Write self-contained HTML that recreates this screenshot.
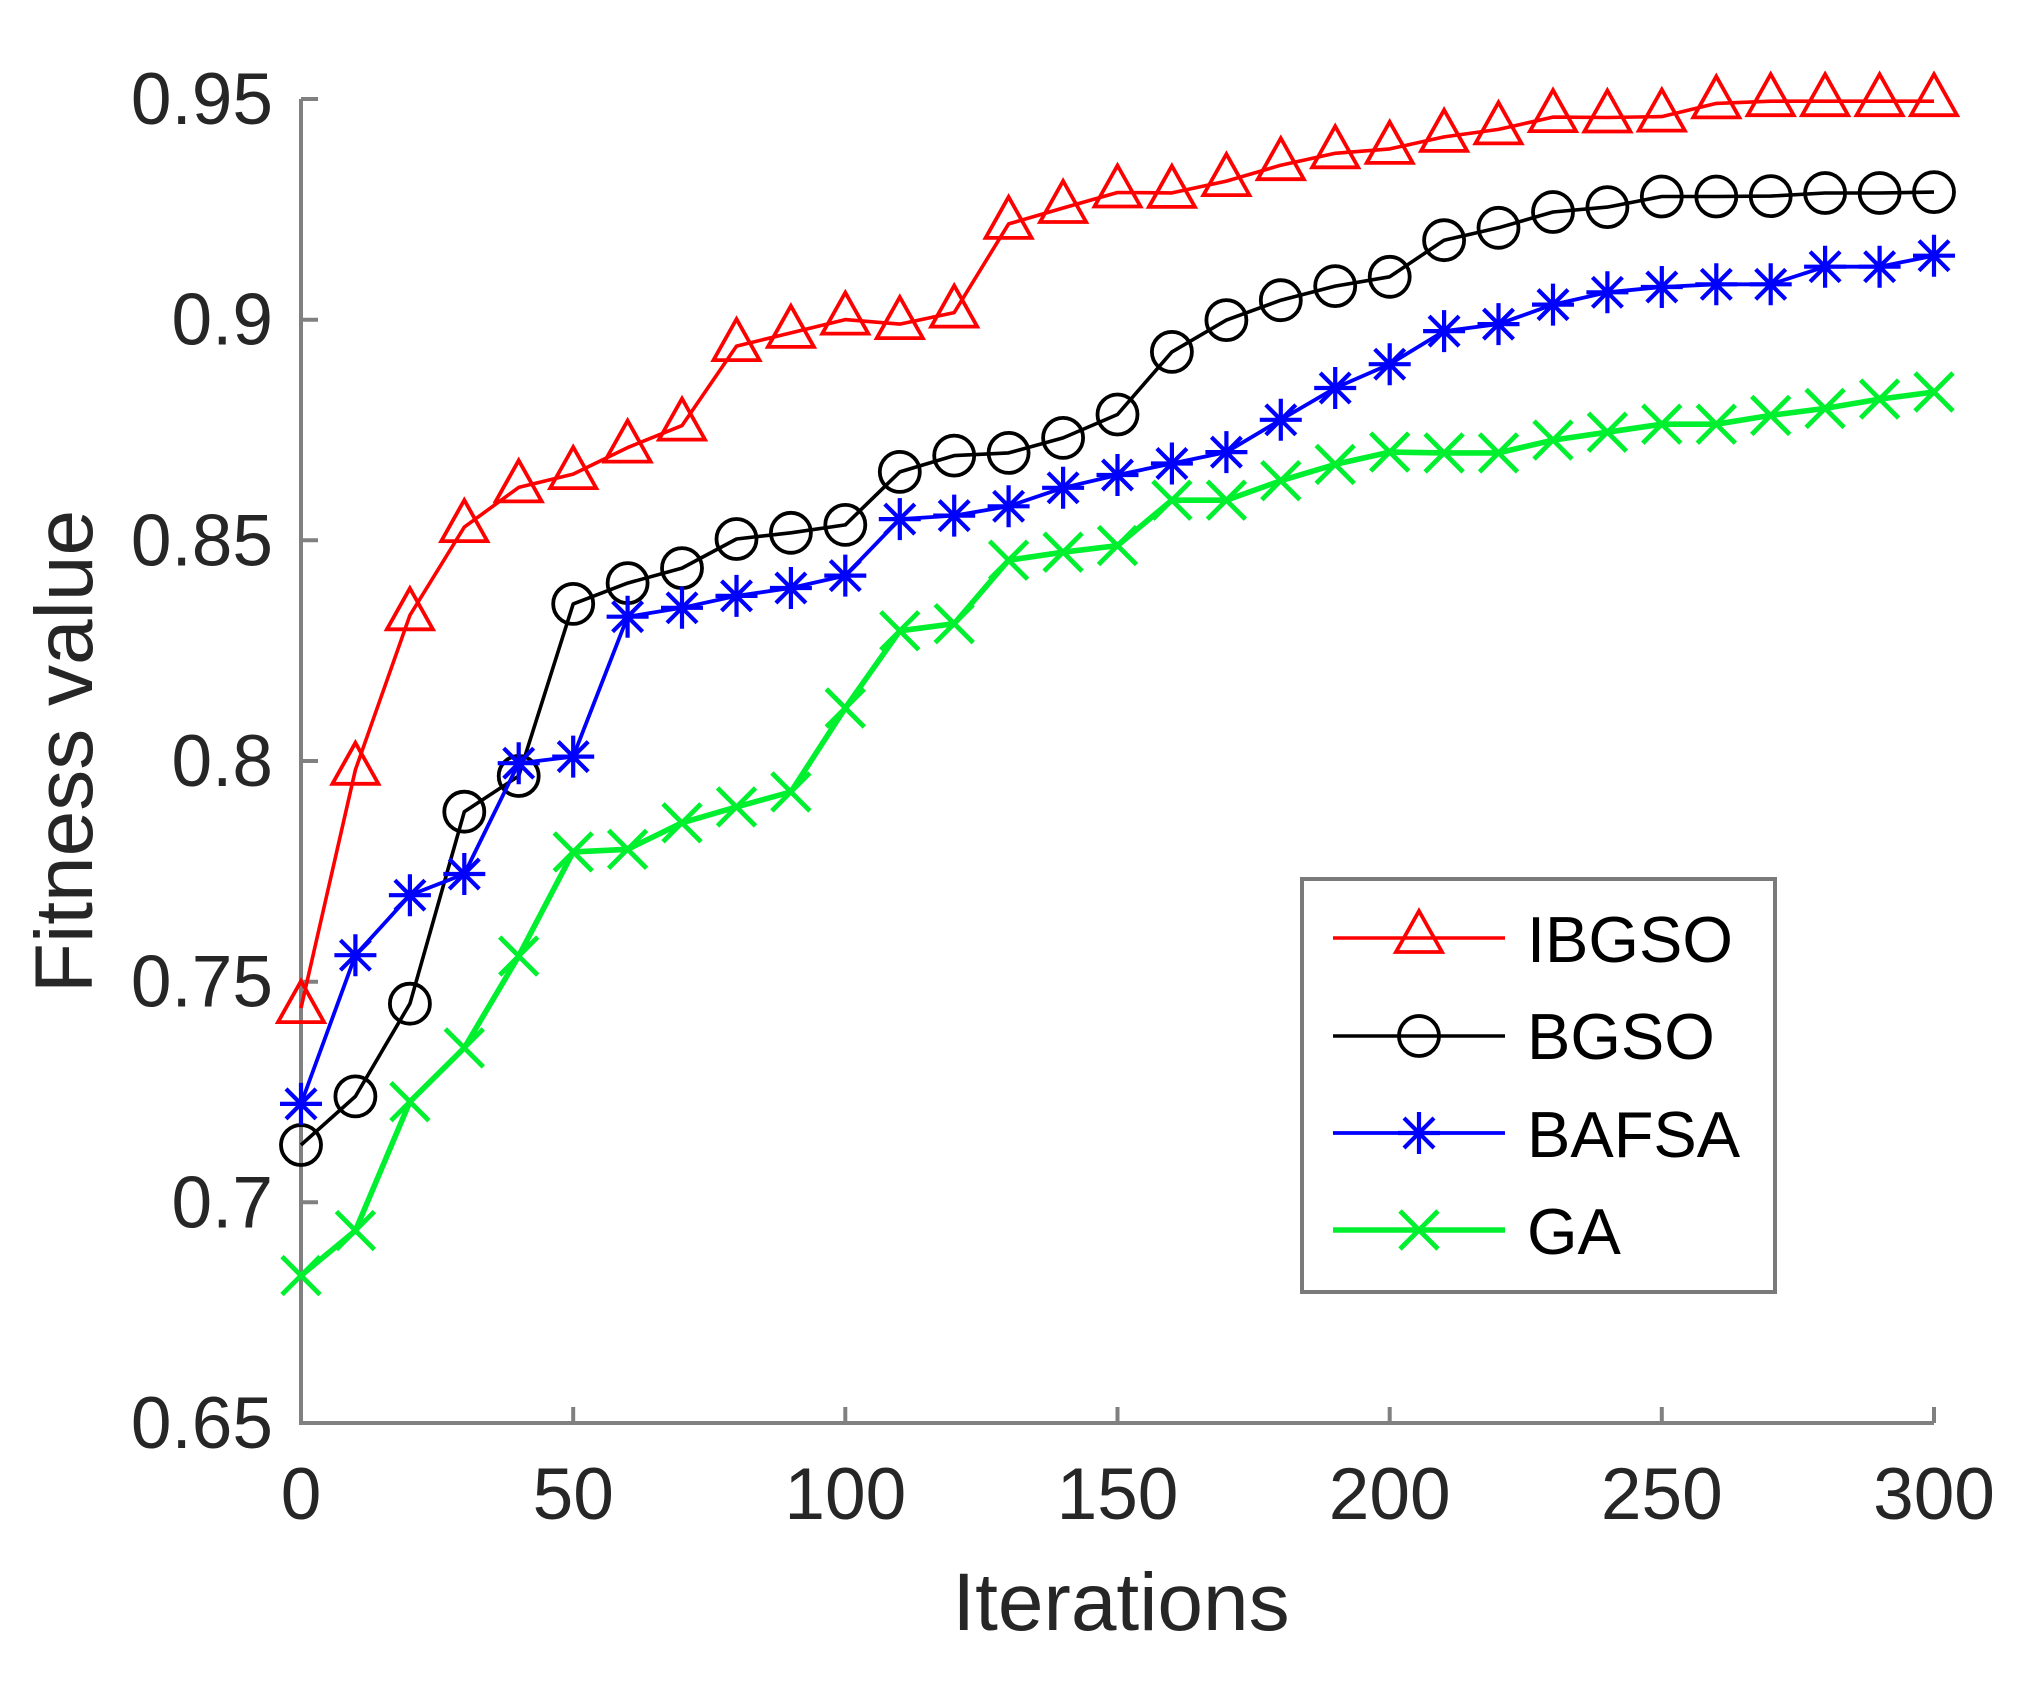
<!DOCTYPE html>
<html>
<head>
<meta charset="utf-8">
<style>
  html, body { margin: 0; padding: 0; background: #ffffff; }
  svg { display: block; }
  text { font-family: "Liberation Sans", Arial, Helvetica, sans-serif; }
</style>
</head>
<body>
<svg width="2041" height="1697" viewBox="0 0 2041 1697" xmlns="http://www.w3.org/2000/svg">
  <defs>
    <path id="tri" d="M0,-27 L23,14 L-23,14 Z" fill="none" stroke="#ff0000" stroke-width="3.8" stroke-linejoin="miter"/>
    <circle id="circ" cx="0" cy="0" r="20" fill="none" stroke="#000000" stroke-width="3.8"/>
    <path id="ast" d="M0,-21 V21 M-21,0 H21 M-15,-15 L15,15 M-15,15 L15,-15" fill="none" stroke="#0000ff" stroke-width="4.2"/>
    <path id="xm" d="M-19,-19 L19,19 M-19,19 L19,-19" fill="none" stroke="#00f030" stroke-width="4.8"/>
  </defs>

  <rect x="0" y="0" width="2041" height="1697" fill="#ffffff"/>

  <!-- Axes -->
  <g stroke="#808080" stroke-width="4" fill="none">
    <path d="M301,99 L301,1423 L1934,1423"/>
    <path d="M301,99 H318 M301,319.7 H318 M301,540.3 H318 M301,761 H318 M301,981.7 H318 M301,1202.3 H318"/>
    <path d="M573.2,1423 V1407 M845.3,1423 V1407 M1117.5,1423 V1407 M1389.7,1423 V1407 M1661.8,1423 V1407 M1934,1423 V1407"/>
  </g>

  <!-- Y tick labels -->
  <g font-size="73" fill="#262626" text-anchor="end">
    <text x="273" y="124">0.95</text>
    <text x="273" y="344.7">0.9</text>
    <text x="273" y="565.3">0.85</text>
    <text x="273" y="786">0.8</text>
    <text x="273" y="1006.7">0.75</text>
    <text x="273" y="1227.3">0.7</text>
    <text x="273" y="1448">0.65</text>
  </g>

  <!-- X tick labels -->
  <g font-size="73" fill="#262626" text-anchor="middle">
    <text x="301" y="1519">0</text>
    <text x="573.2" y="1519">50</text>
    <text x="845.3" y="1519">100</text>
    <text x="1117.5" y="1519">150</text>
    <text x="1389.7" y="1519">200</text>
    <text x="1661.8" y="1519">250</text>
    <text x="1934" y="1519">300</text>
  </g>

  <!-- Axis labels -->
  <text x="1121" y="1630" font-size="82" fill="#262626" text-anchor="middle">Iterations</text>
  <text transform="translate(92,751.5) rotate(-90)" x="0" y="0" font-size="82" fill="#262626" text-anchor="middle">Fitness value</text>

  <!-- IBGSO (red) -->
  <polyline fill="none" stroke="#ff0000" stroke-width="3.6" stroke-linejoin="round"
    points="301,1008.1 355.4,769.8 409.9,615.3 464.3,527.1 518.7,487.4 573.2,474.1 627.6,447.6 682,425.6 736.5,346.1 790.9,332.9 845.3,319.6 899.8,324.1 954.2,312.6 1008.6,223.9 1063.1,208 1117.5,192.5 1171.9,192.9 1226.4,181.1 1280.8,165.2 1335.2,153.3 1389.7,148.9 1444.1,136.9 1498.5,129.4 1553,117.1 1607.4,117.5 1661.8,116.6 1716.3,103.4 1770.7,101.2 1825.1,101.2 1879.6,101.2 1934,101.2"/>
  <g>
    <use href="#tri" x="301" y="1008.1"/><use href="#tri" x="355.4" y="769.8"/><use href="#tri" x="409.9" y="615.3"/>
    <use href="#tri" x="464.3" y="527.1"/><use href="#tri" x="518.7" y="487.4"/><use href="#tri" x="573.2" y="474.1"/>
    <use href="#tri" x="627.6" y="447.6"/><use href="#tri" x="682" y="425.6"/><use href="#tri" x="736.5" y="346.1"/>
    <use href="#tri" x="790.9" y="332.9"/><use href="#tri" x="845.3" y="319.6"/><use href="#tri" x="899.8" y="324.1"/>
    <use href="#tri" x="954.2" y="312.6"/><use href="#tri" x="1008.6" y="223.9"/><use href="#tri" x="1063.1" y="208"/>
    <use href="#tri" x="1117.5" y="192.5"/><use href="#tri" x="1171.9" y="192.9"/><use href="#tri" x="1226.4" y="181.1"/>
    <use href="#tri" x="1280.8" y="165.2"/><use href="#tri" x="1335.2" y="153.3"/><use href="#tri" x="1389.7" y="148.9"/>
    <use href="#tri" x="1444.1" y="136.9"/><use href="#tri" x="1498.5" y="129.4"/><use href="#tri" x="1553" y="117.1"/>
    <use href="#tri" x="1607.4" y="117.5"/><use href="#tri" x="1661.8" y="116.6"/><use href="#tri" x="1716.3" y="103.4"/>
    <use href="#tri" x="1770.7" y="101.2"/><use href="#tri" x="1825.1" y="101.2"/><use href="#tri" x="1879.6" y="101.2"/>
    <use href="#tri" x="1934" y="101.2"/>
  </g>

  <!-- BGSO (black) -->
  <polyline fill="none" stroke="#000000" stroke-width="3.6" stroke-linejoin="round"
    points="301,1145 355.4,1096.4 409.9,1003.7 464.3,811.7 518.7,776 573.2,603.9 627.6,583.1 682,568.1 736.5,539 790.9,532.8 845.3,524.9 899.8,471.9 954.2,455.6 1008.6,452.9 1063.1,437.9 1117.5,414.5 1171.9,351.9 1226.4,320.1 1280.8,300.2 1335.2,286.1 1389.7,276.8 1444.1,240.2 1498.5,227.8 1553,212 1607.4,207.1 1661.8,196.5 1716.3,196.5 1770.7,196.1 1825.1,193 1879.6,193 1934,192.1"/>
  <g>
    <use href="#circ" x="301" y="1145"/><use href="#circ" x="355.4" y="1096.4"/><use href="#circ" x="409.9" y="1003.7"/>
    <use href="#circ" x="464.3" y="811.7"/><use href="#circ" x="518.7" y="776"/><use href="#circ" x="573.2" y="603.9"/>
    <use href="#circ" x="627.6" y="583.1"/><use href="#circ" x="682" y="568.1"/><use href="#circ" x="736.5" y="539"/>
    <use href="#circ" x="790.9" y="532.8"/><use href="#circ" x="845.3" y="524.9"/><use href="#circ" x="899.8" y="471.9"/>
    <use href="#circ" x="954.2" y="455.6"/><use href="#circ" x="1008.6" y="452.9"/><use href="#circ" x="1063.1" y="437.9"/>
    <use href="#circ" x="1117.5" y="414.5"/><use href="#circ" x="1171.9" y="351.9"/><use href="#circ" x="1226.4" y="320.1"/>
    <use href="#circ" x="1280.8" y="300.2"/><use href="#circ" x="1335.2" y="286.1"/><use href="#circ" x="1389.7" y="276.8"/>
    <use href="#circ" x="1444.1" y="240.2"/><use href="#circ" x="1498.5" y="227.8"/><use href="#circ" x="1553" y="212"/>
    <use href="#circ" x="1607.4" y="207.1"/><use href="#circ" x="1661.8" y="196.5"/><use href="#circ" x="1716.3" y="196.5"/>
    <use href="#circ" x="1770.7" y="196.1"/><use href="#circ" x="1825.1" y="193"/><use href="#circ" x="1879.6" y="193"/>
    <use href="#circ" x="1934" y="192.1"/>
  </g>

  <!-- BAFSA (blue) -->
  <polyline fill="none" stroke="#0000ff" stroke-width="3.8" stroke-linejoin="round"
    points="301,1103.9 355.4,955.2 409.9,895.2 464.3,874 518.7,763.2 573.2,756.6 627.6,616.7 682,607.8 736.5,595.9 790.9,588 845.3,575.6 899.8,519.1 954.2,515.6 1008.6,506.3 1063.1,487.8 1117.5,475 1171.9,463.5 1226.4,452.1 1280.8,419.8 1335.2,388 1389.7,364.2 1444.1,331.1 1498.5,324.1 1553,304.6 1607.4,292.3 1661.8,287 1716.3,284.3 1770.7,284.3 1825.1,266.7 1879.6,266.7 1934,255.7"/>
  <g>
    <use href="#ast" x="301" y="1103.9"/><use href="#ast" x="355.4" y="955.2"/><use href="#ast" x="409.9" y="895.2"/>
    <use href="#ast" x="464.3" y="874"/><use href="#ast" x="518.7" y="763.2"/><use href="#ast" x="573.2" y="756.6"/>
    <use href="#ast" x="627.6" y="616.7"/><use href="#ast" x="682" y="607.8"/><use href="#ast" x="736.5" y="595.9"/>
    <use href="#ast" x="790.9" y="588"/><use href="#ast" x="845.3" y="575.6"/><use href="#ast" x="899.8" y="519.1"/>
    <use href="#ast" x="954.2" y="515.6"/><use href="#ast" x="1008.6" y="506.3"/><use href="#ast" x="1063.1" y="487.8"/>
    <use href="#ast" x="1117.5" y="475"/><use href="#ast" x="1171.9" y="463.5"/><use href="#ast" x="1226.4" y="452.1"/>
    <use href="#ast" x="1280.8" y="419.8"/><use href="#ast" x="1335.2" y="388"/><use href="#ast" x="1389.7" y="364.2"/>
    <use href="#ast" x="1444.1" y="331.1"/><use href="#ast" x="1498.5" y="324.1"/><use href="#ast" x="1553" y="304.6"/>
    <use href="#ast" x="1607.4" y="292.3"/><use href="#ast" x="1661.8" y="287"/><use href="#ast" x="1716.3" y="284.3"/>
    <use href="#ast" x="1770.7" y="284.3"/><use href="#ast" x="1825.1" y="266.7"/><use href="#ast" x="1879.6" y="266.7"/>
    <use href="#ast" x="1934" y="255.7"/>
  </g>

  <!-- GA (green) -->
  <polyline fill="none" stroke="#00f030" stroke-width="5.6" stroke-linejoin="round"
    points="301,1275.6 355.4,1230.6 409.9,1101.7 464.3,1047.9 518.7,956.1 573.2,851.9 627.6,849.3 682,822.8 736.5,806.9 790.9,791.9 845.3,708 899.8,630.8 954.2,623.7 1008.6,560.2 1063.1,552.2 1117.5,545.6 1171.9,500.2 1226.4,500.2 1280.8,480.7 1335.2,464.4 1389.7,452.1 1444.1,452.9 1498.5,452.9 1553,440.1 1607.4,432.2 1661.8,424.2 1716.3,424.2 1770.7,415.4 1825.1,408.4 1879.6,399.1 1934,392"/>
  <g>
    <use href="#xm" x="301" y="1275.6"/><use href="#xm" x="355.4" y="1230.6"/><use href="#xm" x="409.9" y="1101.7"/>
    <use href="#xm" x="464.3" y="1047.9"/><use href="#xm" x="518.7" y="956.1"/><use href="#xm" x="573.2" y="851.9"/>
    <use href="#xm" x="627.6" y="849.3"/><use href="#xm" x="682" y="822.8"/><use href="#xm" x="736.5" y="806.9"/>
    <use href="#xm" x="790.9" y="791.9"/><use href="#xm" x="845.3" y="708"/><use href="#xm" x="899.8" y="630.8"/>
    <use href="#xm" x="954.2" y="623.7"/><use href="#xm" x="1008.6" y="560.2"/><use href="#xm" x="1063.1" y="552.2"/>
    <use href="#xm" x="1117.5" y="545.6"/><use href="#xm" x="1171.9" y="500.2"/><use href="#xm" x="1226.4" y="500.2"/>
    <use href="#xm" x="1280.8" y="480.7"/><use href="#xm" x="1335.2" y="464.4"/><use href="#xm" x="1389.7" y="452.1"/>
    <use href="#xm" x="1444.1" y="452.9"/><use href="#xm" x="1498.5" y="452.9"/><use href="#xm" x="1553" y="440.1"/>
    <use href="#xm" x="1607.4" y="432.2"/><use href="#xm" x="1661.8" y="424.2"/><use href="#xm" x="1716.3" y="424.2"/>
    <use href="#xm" x="1770.7" y="415.4"/><use href="#xm" x="1825.1" y="408.4"/><use href="#xm" x="1879.6" y="399.1"/>
    <use href="#xm" x="1934" y="392"/>
  </g>

  <!-- Legend -->
  <rect x="1302" y="879" width="473" height="413" fill="#ffffff" stroke="#7a7a7a" stroke-width="4"/>
  <line x1="1333" y1="938" x2="1505" y2="938" stroke="#ff0000" stroke-width="3.6"/>
  <use href="#tri" x="1419" y="938"/>
  <line x1="1333" y1="1036" x2="1505" y2="1036" stroke="#000000" stroke-width="3.6"/>
  <use href="#circ" x="1419" y="1036"/>
  <line x1="1333" y1="1133" x2="1505" y2="1133" stroke="#0000ff" stroke-width="3.8"/>
  <use href="#ast" x="1419" y="1133"/>
  <line x1="1333" y1="1230" x2="1505" y2="1230" stroke="#00f030" stroke-width="5.6"/>
  <use href="#xm" x="1419" y="1230"/>
  <g font-size="65" fill="#000000">
    <text x="1527" y="962">IBGSO</text>
    <text x="1527" y="1059">BGSO</text>
    <text x="1527" y="1157">BAFSA</text>
    <text x="1527" y="1254">GA</text>
  </g>
</svg>
</body>
</html>
